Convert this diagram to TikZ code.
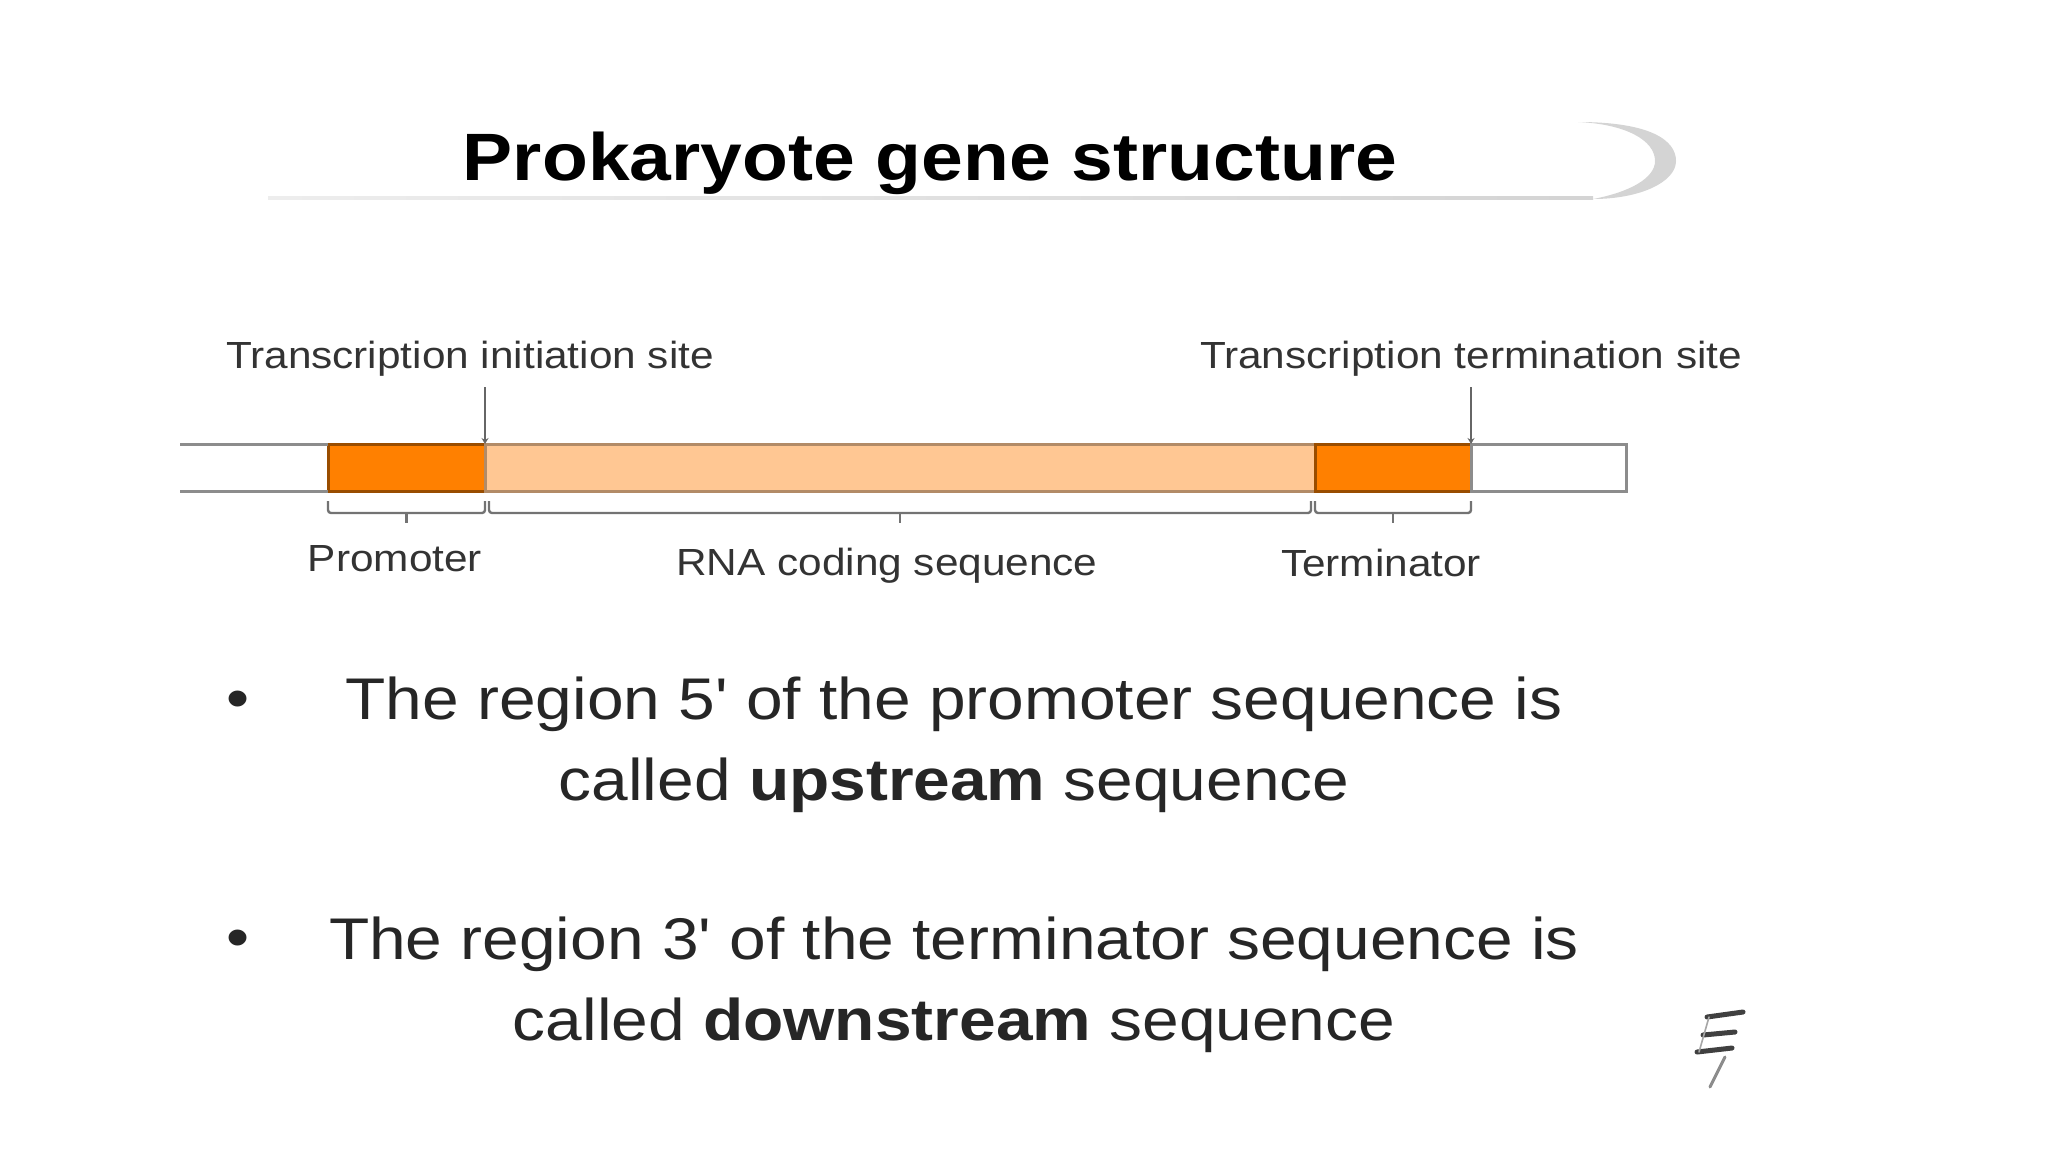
\documentclass[tikz,border=0pt]{standalone}
\usepackage{fontspec}
\setmainfont[FakeStretch=1.12]{Liberation Sans}
\newfontfamily\plainfont[FakeStretch=1.12]{Liberation Sans}
\usetikzlibrary{positioning, arrows.meta}
\definecolor{barline}{HTML}{8C8C8C}
\definecolor{darkorange}{HTML}{FF8000}
\definecolor{lightorange}{HTML}{FFC793}
\definecolor{labeltext}{HTML}{333333}
\begin{document}
\begin{tikzpicture}[x=0.5pt, y=-0.5pt, node distance=0pt,
	part/.style = {draw, line width=1.5pt, minimum height=23.5pt, inner sep=0pt, outer sep=0pt},
	tag/.style = {text=labeltext, font=\fontsize{18.9}{22}\selectfont, inner sep=0pt},
	body/.style = {text=black!85, align=center, font=\fontsize{29.4}{40.5}\selectfont, inner sep=0pt},
	site/.style = {draw=black!60, line width=1.2pt, -{Stealth[length=3pt, width=3.5pt]}},
	span/.style = {draw=black!55, line width=1.2pt, rounded corners=1.5pt},
	logo/.style = {draw=black!75, line cap=round}]
	\useasboundingbox (0,0) rectangle (2048,1152);
	% title and its swoosh
	\node[font=\fontsize{33.5}{40}\selectfont\bfseries, inner sep=0pt] (Title) at (930,163) {Prokaryote gene structure};
	\fill[left color=black!7, right color=black!17] (268,196) rectangle (1593,199);
	\fill[black!17] (1578,122) .. controls (1650,122) and (1676,140) .. (1676,161) .. controls (1676,182) and (1640,199) .. (1593,199) .. controls (1630,192) and (1655,178) .. (1655,161) .. controls (1655,140) and (1625,124) .. (1578,122);
	% the gene
	\node[part, draw=black!40!darkorange, fill=darkorange, minimum width=78.5pt] (Promoter) at (406.5,467.5) {};
	\node[part, draw=black!30!lightorange, fill=lightorange, minimum width=415pt] (Coding) [right=of Promoter] {};
	\node[part, draw=black!40!darkorange, fill=darkorange, minimum width=78pt] (Terminator) [right=of Coding] {};
	\node[part, draw=barline, minimum width=77.5pt] (Tail) [right=of Terminator] {};
	\node[part, draw=none, minimum width=74pt] (Head) [left=of Promoter] {};
	\draw[barline, line width=1.5pt] (Head.north west) -- (Promoter.north west);
	\draw[barline, line width=1.5pt] (Head.south west) -- (Promoter.south west);
	% sites
	\node[tag] (InitSite) at (470,359) {Transcription initiation site};
	\node[tag] (TermSite) at (1471,359) {Transcription termination site};
	\coordinate (InitTop) at (485,387);
	\coordinate (TermTop) at (1471,387);
	\draw[site] (InitTop) -- (Promoter.north east);
	\draw[site] (TermTop) -- (Terminator.north east);
	% brackets
	\draw[span] ([yshift=-5pt]Promoter.south west) -- ([yshift=-11pt]Promoter.south west) -- ([yshift=-11pt]Promoter.south east) -- ([yshift=-5pt]Promoter.south east);
	\draw[span] ([xshift=2pt, yshift=-5pt]Coding.south west) -- ([xshift=2pt, yshift=-11pt]Coding.south west) -- ([xshift=-2pt, yshift=-11pt]Coding.south east) -- ([xshift=-2pt, yshift=-5pt]Coding.south east);
	\draw[span] ([yshift=-5pt]Terminator.south west) -- ([yshift=-11pt]Terminator.south west) -- ([yshift=-11pt]Terminator.south east) -- ([yshift=-5pt]Terminator.south east);
	\draw[span] ([yshift=-11pt]Promoter.south) -- ([yshift=-16pt]Promoter.south);
	\draw[span] ([yshift=-11pt]Coding.south) -- ([yshift=-16pt]Coding.south);
	\draw[span] ([yshift=-11pt]Terminator.south) -- ([yshift=-16pt]Terminator.south);
	\node[tag] (PromoterText) at (395,559) {Promoter};
	\node[tag] (CodingText) at (887,566) {RNA coding sequence};
	\node[tag] (TerminatorText) at (1381,563) {Terminator};
	% bullets
	\node[body] (BulletA) at (238,705) {\textbullet};
	\node[body] (BulletB) at (238,944) {\textbullet};
	\node[body] (TextA) at (954,745) {The region 5{\plainfont'} of the promoter sequence is\\called \textbf{upstream} sequence};
	\node[body] (TextB) at (954,984.5) {The region 3{\plainfont'} of the terminator sequence is\\called \textbf{downstream} sequence};
	% corner mark
	\draw[logo, line width=2.5pt] (1707,1017) -- (1743,1012);
	\draw[logo, line width=2.5pt] (1703,1035) -- (1735,1032);
	\draw[logo, line width=2.5pt] (1697,1052) -- (1732,1048);
	\draw[logo, black!45, line width=1.5pt] (1725,1057) -- (1710,1087);
	\draw[logo, black!35, line width=0.8pt] (1709,1017) -- (1699,1052);
\end{tikzpicture}
\end{document}
